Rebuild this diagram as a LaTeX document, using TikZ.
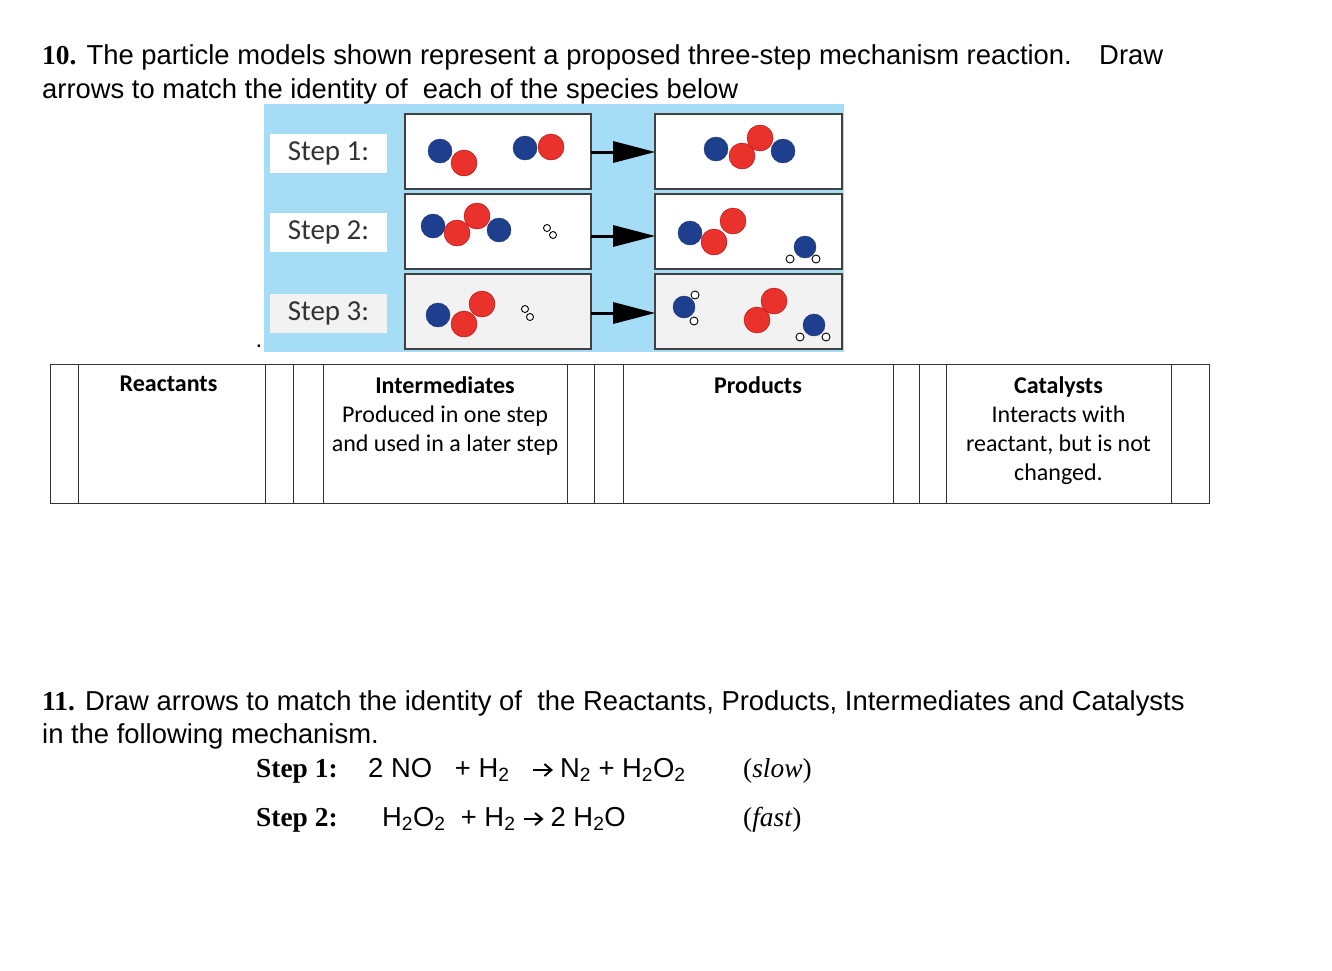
\documentclass[tikz,border=0pt]{standalone}
\usepackage{fontspec}
\setmainfont{Liberation Sans}
\newfontfamily\serif{Liberation Serif}
\newfontfamily\carl{Carlito}
\definecolor{bgblue}{HTML}{A6DDF6}
\definecolor{nblue}{HTML}{1E3F8E}
\definecolor{ored}{HTML}{E9322B}
\newcommand{\arr}{\tikz[baseline=-7pt,x=1pt,y=1pt]{\draw[line width=2pt] (0,0)--(18,0); \draw[line width=2pt,line join=miter] (11,6)--(18,0)--(11,-6);}}
\begin{document}
\begin{tikzpicture}[x=1pt,y=-1pt,
  txt/.style={anchor=base west,inner sep=0pt,font=\fontsize{27.4}{30}\selectfont},
  stx/.style={anchor=base west,inner sep=0pt,font=\serif\bfseries\fontsize{27.4}{30}\selectfont},
  slx/.style={anchor=base west,inner sep=0pt,font=\serif\fontsize{27.4}{30}\selectfont},
  tab/.style={align=center,font=\carl\fontsize{24}{29}\selectfont,anchor=north,inner sep=0pt},
  panel/.style={draw=black!75,line width=1.2pt,fill=white},
  lab/.style={fill=white,minimum width=117pt,minimum height=39pt,inner sep=0pt,font=\carl\fontsize{29}{30}\selectfont,text=black!80},
  N/.style={fill=nblue,draw=nblue!80!black},
  O/.style={fill=ored,draw=red!70!black},
  H/.style={draw=black,fill=white,line width=0.9pt}]
\useasboundingbox (0,0) rectangle (1332,970);
\fill[white] (0,0) rectangle (1332,970);
\node[txt] (t1) at (42,64) {{\serif\bfseries 10.} The particle models shown represent a proposed three-step mechanism reaction.\quad Draw};
\node[txt] (t2) at (42,98) {arrows to match the identity of\ \ each of the species below};
% image
\fill[bgblue] (264,104) rectangle (844,352);
\node[lab] (s1) at (328.5,153) {Step 1:};
\node[lab] (s2) at (328.5,232.5) {Step 2:};
\node[lab,fill=black!5] (s3) at (328.5,313.5) {Step 3:};
\draw[panel] (405,114) rectangle (591,189);
\draw[panel] (405,194) rectangle (591,269);
\draw[panel,fill=black!5] (405,274) rectangle (591,349);
\draw[panel] (655,114) rectangle (842,189);
\draw[panel] (655,194) rectangle (842,269);
\draw[panel,fill=black!5] (655,274) rectangle (842,349);
\coordinate (a1) at (591,152); \coordinate (b1) at (655,152);
\coordinate (a2) at (591,236); \coordinate (b2) at (655,236);
\coordinate (a3) at (591,313); \coordinate (b3) at (655,313);
\foreach \i in {1,2,3} \draw[line width=3pt] (a\i) -- ++(22,0);
\foreach \i in {1,2,3} \fill (b\i) -- ++(-42,-11) -- ++(0,22) -- cycle;
% step 1
\fill[N] (440,151) circle (12); \fill[O] (464,163) circle (13);
\fill[N] (525,148) circle (12); \fill[O] (551,147) circle (13);
\fill[N] (716,149) circle (12); \fill[N] (783,151) circle (12);
\fill[O] (742,156) circle (13); \fill[O] (760,138) circle (13);
% step 2
\fill[N] (433,226) circle (12); \fill[N] (499,230) circle (12);
\fill[O] (457,233) circle (13); \fill[O] (477,216) circle (13);
\draw[H] (547,228) circle (3.5); \draw[H] (553,235) circle (3.5);
\fill[N] (690,233) circle (12); \fill[O] (714,242) circle (13); \fill[O] (733,221) circle (13);
\fill[N] (805,247) circle (11); \draw[H] (790,259) circle (4); \draw[H] (816,259) circle (4);
% step 3
\fill[N] (438,315) circle (12); \fill[O] (464,324) circle (13); \fill[O] (482,304) circle (13);
\draw[H] (525,309) circle (3.5); \draw[H] (530,317) circle (3.5);
\fill[N] (684,307) circle (11); \draw[H] (695,295) circle (4); \draw[H] (694,321) circle (4);
\fill[O] (757,320) circle (13); \fill[O] (774,301) circle (13);
\fill[N] (814,325) circle (11); \draw[H] (800,337) circle (4); \draw[H] (826,337) circle (4);
\node[inner sep=0pt,font=\fontsize{24}{24}\selectfont] (dot) at (259,346) {.};
% table
\draw[black!80,line width=0.8pt] (50,364) rectangle (1209,503);
\foreach \x in {78,265,293,323,567,594,623,893,919,946,1171} \draw[black!80,line width=0.6pt] (\x,364) -- (\x,503);
\node[tab] (r) at (168.5,376) {\bfseries Reactants};
\node[tab] (i) at (445,376) {\bfseries Intermediates\\Produced in one step\\and used in a later step};
\node[tab] (p) at (758,376) {\bfseries Products};
\node[tab] (c) at (1058.5,376) {\bfseries Catalysts\\Interacts with\\reactant, but is not\\changed.};
% question 11
\node[txt] (u1) at (42,710) {{\serif\bfseries 11.} Draw arrows to match the identity of\ \ the Reactants, Products, Intermediates and Catalysts};
\node[txt] (u2) at (42,743) {in the following mechanism.};
\node[stx] (st1) at (256,777) {Step 1:};
\node[txt] (e1) at (368,777) {2 NO\ \ \ + H\textsubscript{2}\ \ \ \arr\ N\textsubscript{2} + H\textsubscript{2}O\textsubscript{2}};
\node[slx] (k1) at (743,777) {(\textit{slow})};
\node[stx] (st2) at (256,826) {Step 2:};
\node[txt] (e2) at (382,826) {H\textsubscript{2}O\textsubscript{2}\ \ + H\textsubscript{2} \arr\ 2 H\textsubscript{2}O};
\node[slx] (k2) at (743,826) {(\textit{fast})};
\end{tikzpicture}
\end{document}
